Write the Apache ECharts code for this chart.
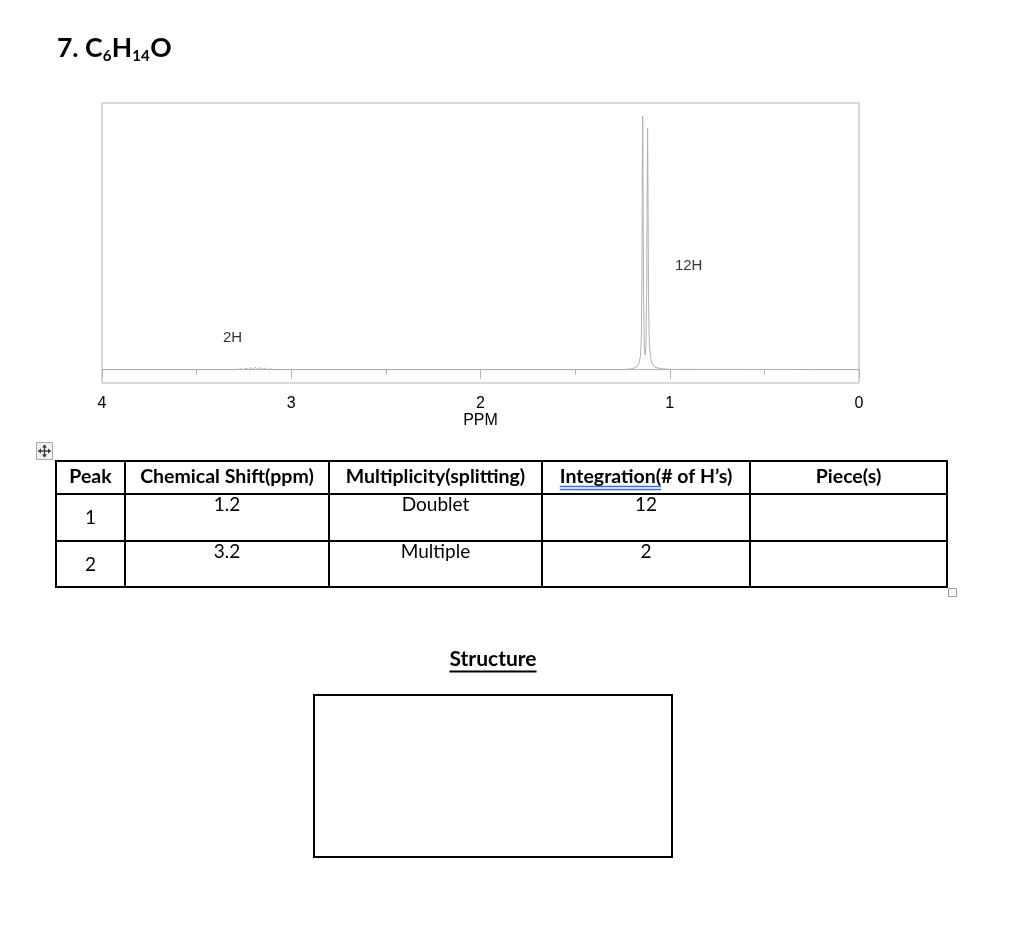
<!DOCTYPE html>
<html><head><meta charset="utf-8">
<script src="https://cdn.jsdelivr.net/npm/echarts@6/dist/echarts.min.js"></script>
<style>html,body{margin:0;padding:0;background:#fff}#c{width:1024px;height:938px}</style>
</head><body><div id="c"></div><script>
// ---- data ----
const titleParts = [['7. C', false], ['6', true], ['H', false], ['14', true], ['O', false]];
const spectrumPPM = [4.00, 3.29, 3.265, 3.252, 3.24, 3.227, 3.215, 3.202, 3.19, 3.177, 3.165, 3.152, 3.14, 3.127, 3.115, 3.09,
  1.25, 1.20, 1.175, 1.162, 1.155, 1.150, 1.147, 1.145, 1.143, 1.141, 1.138, 1.134, 1.130, 1.126, 1.122, 1.119, 1.117, 1.115, 1.112, 1.108, 1.103, 1.095, 1.08, 1.05, 1.00, 0.00];
const spectrumIntensity = [0, 0, 0.3, 0, 0.6, 0, 0.8, 0, 0.9, 0, 0.8, 0, 0.6, 0, 0.3, 0,
  0, 0.3, 1.0, 2.5, 5, 12, 35, 75, 95.1, 70, 25, 8, 5.5, 8, 30, 70, 90.6, 65, 25, 10, 5, 2.5, 1.0, 0.4, 0.1, 0];
const peakLabels = ['2H', '12H'];
const peakLabelPPM = [3.31, 0.90];
const peakLabelHeight = [11.9, 38.9];
const axisName = 'PPM';
const tableHeaders = ['Peak', 'Chemical Shift(ppm)', 'Multiplicity(splitting)', 'Integration(# of H\u2019s)', 'Piece(s)'];
const peakNumbers = ['1', '2'];
const chemicalShifts = ['1.2', '3.2'];
const multiplicities = ['Doublet', 'Multiple'];
const integrations = ['12', '2'];
const pieces = ['', ''];
const structureTitle = 'Structure';

// ---- layout ----
const FONT = 'Lato, "Open Sans", sans-serif';
const AXFONT = '"Liberation Sans", Arial, sans-serif';
const cv = document.createElement('canvas').getContext('2d');
function tw(text, font) { cv.font = font; return cv.measureText(text).width; }

const g = [];
// title
(function () {
  let x = 57;
  const mainFont = 'bold 26.5px ' + FONT, subFont = 'bold 15px ' + FONT;
  titleParts.forEach(([t, sub]) => {
    const f = sub ? subFont : mainFont;
    g.push({ type: 'text', x: x, y: sub ? 56 : 48.5, style: { text: t, font: f, fill: '#000', align: 'left', verticalAlign: 'middle', textAlign: 'left', textVerticalAlign: 'middle' } });
    x += tw(t, f) + (sub ? 0.5 : 0);
  });
})();

// table
const colX = [56, 125, 329, 542, 750, 947];
const rowY = [461, 494, 541, 587];
const tFont = '19px ' + FONT, tbFont = 'bold 19.5px ' + FONT;
g.push({ type: 'rect', shape: { x: colX[0], y: rowY[0], width: colX[5] - colX[0], height: rowY[3] - rowY[0] }, style: { fill: 'none', stroke: '#000', lineWidth: 2 } });
colX.slice(1, 5).forEach(x => g.push({ type: 'line', shape: { x1: x, y1: rowY[0], x2: x, y2: rowY[3] }, style: { stroke: '#000', lineWidth: 2 } }));
rowY.slice(1, 3).forEach(y => g.push({ type: 'line', shape: { x1: colX[0], y1: y, x2: colX[5], y2: y }, style: { stroke: '#000', lineWidth: 2 } }));
function cellText(t, cx, cy, font) {
  g.push({ type: 'text', x: cx, y: cy, style: { text: t, font: font, fill: '#000', align: 'center', verticalAlign: 'middle', textAlign: 'center', textVerticalAlign: 'middle' } });
}
tableHeaders.forEach((h, i) => cellText(h, (colX[i] + colX[i + 1]) / 2, 477, tbFont));
// spell-check underline under "Integration("
(function () {
  const cx = (colX[3] + colX[4]) / 2;
  const W = tw(tableHeaders[3], tbFont), w1 = tw('Integration(', tbFont);
  const x0 = cx - W / 2;
  [486.5, 489.5].forEach(y => g.push({ type: 'line', shape: { x1: x0, y1: y, x2: x0 + w1, y2: y }, style: { stroke: '#3a6cd8', lineWidth: 1.3 } }));
})();
const rowCenters = [[518, 505], [565, 552]];
peakNumbers.forEach((p, r) => {
  cellText(p, (colX[0] + colX[1]) / 2, rowCenters[r][0], tFont);
  cellText(chemicalShifts[r], (colX[1] + colX[2]) / 2, rowCenters[r][1], tFont);
  cellText(multiplicities[r], (colX[2] + colX[3]) / 2, rowCenters[r][1], tFont);
  cellText(integrations[r], (colX[3] + colX[4]) / 2, rowCenters[r][1], tFont);
  cellText(pieces[r], (colX[4] + colX[5]) / 2, rowCenters[r][1], tFont);
});
// move handle icon
g.push({ type: 'rect', shape: { x: 36.5, y: 442.5, width: 16, height: 17 }, style: { fill: '#f3f3f3', stroke: '#a8a8a8', lineWidth: 1 } });
g.push({ type: 'line', shape: { x1: 38.5, y1: 451, x2: 50.5, y2: 451 }, style: { stroke: '#333', lineWidth: 1.3 } });
g.push({ type: 'line', shape: { x1: 44.5, y1: 445, x2: 44.5, y2: 457 }, style: { stroke: '#333', lineWidth: 1.3 } });
[[[38, 451], [41, 448.5], [41, 453.5]], [[51, 451], [48, 448.5], [48, 453.5]], [[44.5, 444.5], [42, 447.5], [47, 447.5]], [[44.5, 457.5], [42, 454.5], [47, 454.5]]]
  .forEach(pts => g.push({ type: 'polygon', shape: { points: pts }, style: { fill: '#333' } }));
// resize handle
g.push({ type: 'rect', shape: { x: 948.5, y: 588.5, width: 8, height: 8 }, style: { fill: '#fff', stroke: '#9a9a9a', lineWidth: 1 } });

// structure
(function () {
  const f = 'bold 21px ' + FONT;
  cellText(structureTitle, 493, 659, f);
  const w = tw(structureTitle, f);
  g.push({ type: 'line', shape: { x1: 493 - w / 2, y1: 671.5, x2: 493 + w / 2, y2: 671.5 }, style: { stroke: '#000', lineWidth: 2 } });
  g.push({ type: 'rect', shape: { x: 314, y: 695, width: 358, height: 162 }, style: { fill: 'none', stroke: '#000', lineWidth: 2 } });
})();

const chart = echarts.init(document.getElementById('c'), null, { renderer: 'canvas' });
chart.setOption({
  animation: false,
  backgroundColor: '#fff',
  grid: { left: 102, top: 103, width: 757, height: 280, show: true, borderColor: '#b3b3b3', borderWidth: 1, backgroundColor: 'transparent', containLabel: false },
  xAxis: {
    type: 'value', min: 0, max: 4, interval: 1, inverse: true,
    name: axisName, nameLocation: 'middle', nameGap: 30,
    nameTextStyle: { color: '#000', fontSize: 16, fontFamily: AXFONT },
    axisLine: { show: true, lineStyle: { color: '#b3b3b3', width: 1 } },
    axisTick: { show: true, length: 9, lineStyle: { color: '#b3b3b3' } },
    minorTick: { show: true, splitNumber: 2, length: 5, lineStyle: { color: '#b3b3b3' } },
    splitLine: { show: false },
    axisLabel: { color: '#000', fontSize: 16, margin: 13, fontFamily: AXFONT }
  },
  yAxis: { type: 'value', min: -5, max: 100, show: false, splitLine: { show: false } },
  series: [
    {
      type: 'line', silent: true, showSymbol: false, symbol: 'none',
      lineStyle: { color: '#b0b0b0', width: 1 },
      data: spectrumPPM.map((p, i) => [p, spectrumIntensity[i]])
    },
    {
      type: 'scatter', silent: true, symbolSize: 0,
      label: { show: true, position: 'inside', formatter: p => p.value[2], color: '#000', fontSize: 15, fontFamily: AXFONT },
      data: peakLabels.map((t, i) => [peakLabelPPM[i], peakLabelHeight[i], t])
    }
  ],
  graphic: { elements: g }
});
</script></body></html>
